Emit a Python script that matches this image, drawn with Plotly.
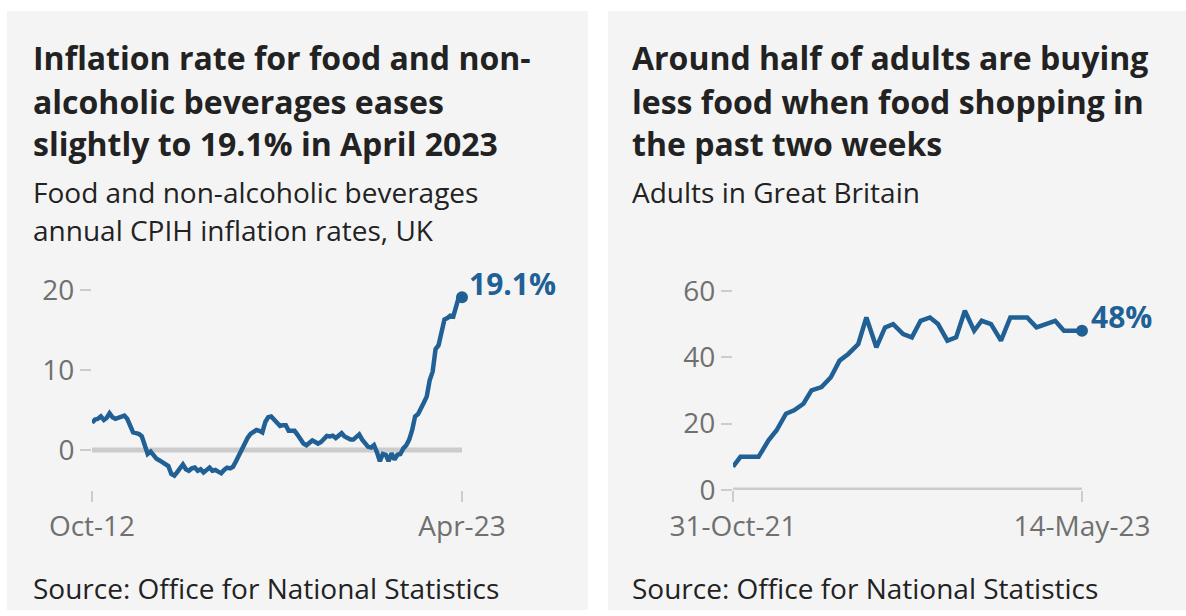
import plotly.graph_objects as go
import pandas as pd

# ---------------- data ----------------
cpih_start = "2012-10-01"
cpih_values = [
    3.4, 3.8, 3.9, 4.2, 3.75, 4.0, 4.6, 4.1, 3.9, 4.0, 4.2, 4.3,
    3.9, 3.1, 2.2, 2.1, 2.0, 1.7, 0.6, -0.5, -0.2, -0.6, -1.1, -1.3,
    -1.5, -1.7, -2.0, -3.0, -3.2, -2.8, -2.3, -1.8, -2.4, -2.6, -2.3, -2.2,
    -2.6, -2.4, -2.8, -2.5, -2.2, -2.6, -2.5, -2.7, -2.9, -2.5, -2.2, -2.3,
    -2.1, -1.4, -0.6, 0.1, 0.9, 1.5, 2.0, 2.3, 2.5, 2.4, 2.2, 3.5,
    4.1, 4.2, 3.8, 3.4, 3.0, 3.1, 3.1, 2.4, 2.4, 2.4, 1.9, 1.3,
    0.8, 0.6, 0.9, 1.2, 1.0, 0.8, 1.0, 1.4, 1.75, 1.7, 1.8, 1.5,
    1.8, 2.1, 1.7, 1.5, 1.3, 1.3, 1.6, 1.95, 1.3, 0.9, 0.4, 0.3,
    0.6, -0.3, -1.4, -0.5, -0.6, -1.4, -0.4, -1.2, -0.6, -0.5, 0.2, 0.6,
    1.3, 2.5, 4.2, 4.5, 5.1, 5.9, 6.7, 8.7, 9.8, 12.6, 13.1, 14.6,
    16.3, 16.5, 16.8, 16.7, 18.2, 19.2, 19.1,
]
cpih_dates = pd.date_range(cpih_start, periods=len(cpih_values), freq="MS")
cpih_tick_vals = ["2012-10-01", "2023-04-01"]
cpih_tick_text = ["Oct-12", "Apr-23"]
cpih_y_ticks = [0, 10, 20]
cpih_label = "19.1%"

food_dates = [
    "2021-10-31", "2021-11-12", "2021-12-11", "2021-12-27", "2022-01-09", "2022-01-24",
    "2022-02-06", "2022-02-21", "2022-03-06", "2022-03-22", "2022-04-06", "2022-04-20",
    "2022-05-04", "2022-05-20", "2022-06-02", "2022-06-18", "2022-07-02", "2022-07-15",
    "2022-07-31", "2022-08-14", "2022-08-28", "2022-09-12", "2022-09-25", "2022-10-10",
    "2022-10-24", "2022-11-07", "2022-11-22", "2022-12-04", "2022-12-19", "2023-01-04",
    "2023-01-19", "2023-02-15", "2023-03-02", "2023-03-18", "2023-04-01", "2023-04-15",
    "2023-05-03", "2023-05-14",
]
food_values = [
    7, 10, 10, 15, 18, 23,
    24, 26, 30, 31, 34, 39,
    41, 44, 52, 43, 49, 50,
    47, 46, 51, 52, 50, 45,
    46, 54, 48, 51, 50, 45,
    52, 52, 49, 50, 51, 48,
    48, 48,
]
food_tick_vals = ["2021-10-31", "2023-05-14"]
food_tick_text = ["31-Oct-21", "14-May-23"]
food_y_ticks = [0, 20, 40, 60]
food_label = "48%"

titles_left = ["Inflation rate for food and non-",
               "alcoholic beverages eases",
               "slightly to 19.1% in April 2023"]
subtitle_left = ["Food and non-alcoholic beverages",
                 "annual CPIH inflation rates, UK"]
titles_right = ["Around half of adults are buying",
                "less food when food shopping in",
                "the past two weeks"]
subtitle_right = ["Adults in Great Britain"]
source_text = "Source: Office for National Statistics"

# ---------------- style ----------------
W, H = 1186, 616
BLUE = "#206095"
PANEL = "#f4f4f4"
GREY_LINE = "#cccccc"
TICK_GREY = "#707070"
TEXT = "#222222"
FONT = "Open Sans"

def px(x):
    return x / W

def py(y):
    return (H - y) / H

fig = go.Figure()

fig.add_trace(go.Scatter(x=cpih_dates, y=cpih_values, mode="lines",
                         line=dict(color=BLUE, width=4.5), xaxis="x", yaxis="y",
                         hoverinfo="skip"))
fig.add_trace(go.Scatter(x=[cpih_dates[-1]], y=[cpih_values[-1]], mode="markers",
                         marker=dict(color=BLUE, size=12), xaxis="x", yaxis="y",
                         cliponaxis=False))
fig.add_trace(go.Scatter(x=pd.to_datetime(food_dates), y=food_values, mode="lines",
                         line=dict(color=BLUE, width=4.5), xaxis="x2", yaxis="y2",
                         hoverinfo="skip"))
fig.add_trace(go.Scatter(x=[pd.to_datetime(food_dates[-1])], y=[food_values[-1]], mode="markers",
                         marker=dict(color=BLUE, size=12), xaxis="x2", yaxis="y2",
                         cliponaxis=False))

shapes = [
    dict(type="rect", xref="paper", yref="paper", x0=px(7), x1=px(588), y0=py(610), y1=py(11),
         fillcolor=PANEL, line=dict(width=0), layer="below"),
    dict(type="rect", xref="paper", yref="paper", x0=px(608), x1=px(1186), y0=py(610), y1=py(11),
         fillcolor=PANEL, line=dict(width=0), layer="below"),
    dict(type="line", xref="x", yref="y", x0=cpih_dates[0], x1=cpih_dates[-1], y0=0, y1=0,
         line=dict(color=GREY_LINE, width=5), layer="below"),
    dict(type="line", xref="x2", yref="y2", x0=food_dates[0], x1=food_dates[-1], y0=0, y1=0,
         line=dict(color=GREY_LINE, width=5), layer="below"),
]

annotations = []
def add_text(text, x, y, size, bold=False, color=TEXT):
    annotations.append(dict(text=("<b>%s</b>" % text) if bold else text,
                            xref="paper", yref="paper", x=px(x), y=py(y),
                            xanchor="left", yanchor="middle", showarrow=False,
                            font=dict(family=FONT, size=size, color=color)))

for i, t in enumerate(titles_left):
    add_text(t, 31, 58 + 43 * i, 32, bold=True)
for i, t in enumerate(subtitle_left):
    add_text(t, 31, 192 + 38 * i, 28)
for i, t in enumerate(titles_right):
    add_text(t, 630, 58 + 43 * i, 32, bold=True)
for i, t in enumerate(subtitle_right):
    add_text(t, 630, 192 + 38 * i, 28)
add_text(source_text, 31, 588, 28)
add_text(source_text, 630, 588, 28)

annotations.append(dict(text="<b>%s</b>" % cpih_label, xref="x", yref="y",
                        x=cpih_dates[-1], y=cpih_values[-1], xanchor="left", yanchor="middle",
                        xshift=5, yshift=14, showarrow=False,
                        font=dict(family=FONT, size=30, color=BLUE)))
annotations.append(dict(text="<b>%s</b>" % food_label, xref="x2", yref="y2",
                        x=food_dates[-1], y=food_values[-1], xanchor="left", yanchor="middle",
                        xshift=7, yshift=14, showarrow=False,
                        font=dict(family=FONT, size=30, color=BLUE)))

tickfont = dict(family=FONT, size=28, color=TICK_GREY)
common = dict(showgrid=False, zeroline=False, showline=False, ticks="outside",
              ticklen=11, tickwidth=2, tickcolor=GREY_LINE, tickfont=tickfont,
              fixedrange=True, automargin=False)

fig.update_layout(
    template="none",
    width=W, height=H,
    margin=dict(l=0, r=0, t=0, b=0, pad=0, autoexpand=False),
    paper_bgcolor="white", plot_bgcolor="rgba(0,0,0,0)",
    showlegend=False,
    shapes=shapes, annotations=annotations,
    xaxis=dict(domain=[px(92), px(462)], range=[cpih_dates[0], cpih_dates[-1]], anchor="y",
               tickvals=cpih_tick_vals, ticktext=cpih_tick_text, **common),
    yaxis=dict(domain=[py(490), py(274)], range=[-5, 22], anchor="x",
               tickvals=cpih_y_ticks, **common),
    xaxis2=dict(domain=[px(733), px(1082)], range=[food_dates[0], food_dates[-1]], anchor="y2",
                tickvals=food_tick_vals, ticktext=food_tick_text, **common),
    yaxis2=dict(domain=[py(490), py(271)], range=[0, 66], anchor="x2",
                tickvals=food_y_ticks, **common),
)

fig.write_html("out.html")
